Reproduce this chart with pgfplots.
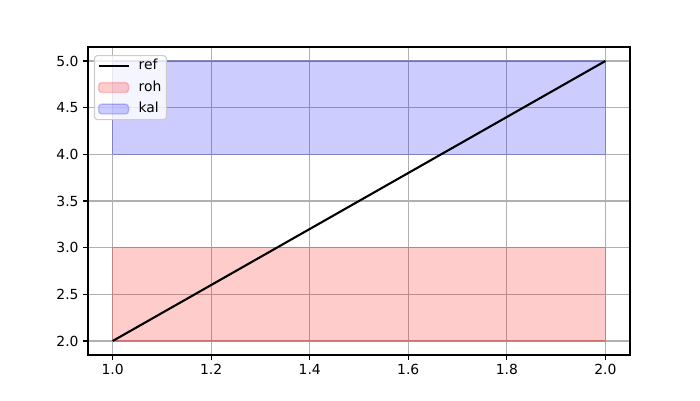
\documentclass[border=0pt]{standalone}
\usepackage{fontspec}
\setmainfont{DejaVu Sans}
\usepackage{pgfplots}
\pgfplotsset{compat=1.18}

\definecolor{gridgray}{HTML}{B0B0B0}
\definecolor{legedge}{HTML}{CCCCCC}

% sizes are in bp, 1bp = 1px of the 700x400 picture (matplotlib at 100 dpi)
\pgfplotsset{
	mpl line legend/.style={
			legend image code/.code={
					\draw[##1] (0bp,0bp) -- (30bp,0bp);
				},
		},
	mpl patch legend/.style={
			legend image code/.code={
					\draw[##1] (0bp,-4.9bp) rectangle (30bp,4.9bp);
				},
		},
}

\begin{document}
\begin{tikzpicture}[x=1bp,y=1bp]
	\path[use as bounding box] (0,0) rectangle (700,400);
	\begin{axis}[
			at={(88bp,45bp)},
			anchor=south west,
			width=542bp,
			height=308bp,
			scale only axis,
			xmin=0.95, xmax=2.05,
			ymin=1.85, ymax=5.15,
			xtick={1.0,1.2,1.4,1.6,1.8,2.0},
			ytick={2.0,2.5,3.0,3.5,4.0,4.5,5.0},
			grid=major,
			major grid style={gridgray, line width=1.1bp},
			tick align=outside,
			tick pos=left,
			major tick length=4.9bp,
			every tick/.style={black, line width=1.1bp},
			axis line style={line width=1.1bp},
			tick label style={font=\fontsize{13.9bp}{16bp}\selectfont},
			xticklabel style={yshift=-1bp},
			yticklabel style={xshift=-1bp},
			/pgf/number format/assume math mode=true,
			/pgf/number format/fixed,
			/pgf/number format/fixed zerofill,
			/pgf/number format/precision=1,
			legend style={
					at={(0.011,0.974)},
					anchor=north west,
					draw=legedge,
					line width=1.1bp,
					fill=white,
					fill opacity=0.8,
					text opacity=1,
					rounded corners=3bp,
					font=\fontsize{13.9bp}{16bp}\selectfont,
					legend cell align=left,
					row sep=4.5bp,
					column sep=7bp,
					inner xsep=3bp,
					inner ysep=2bp,
					nodes={inner xsep=2bp, inner ysep=2bp, text height=10bp, text depth=3bp},
				},
		]
		\addlegendimage{black, line width=2.1bp, mpl line legend}
		\addlegendentry{ref}

		% red band
		\addplot[
			fill=red, fill opacity=0.2,
			draw=red, draw opacity=0.2, line width=1.4bp,
			mpl patch legend,
		] coordinates {
    (1.0, 2.0)
    (2.0, 2.0)
    (2.0, 3.0)
    (1.0, 3.0)
    (1.0, 2.0)
		};
		\addlegendentry{roh}

		% blue band
		\addplot[
			fill=blue, fill opacity=0.2,
			draw=blue, draw opacity=0.2, line width=1.4bp,
			mpl patch legend,
		] coordinates {
    (1.0, 4.0)
    (2.0, 4.0)
    (2.0, 5.0)
    (1.0, 5.0)
    (1.0, 4.0)
		};
		\addlegendentry{kal}

		\addplot[black, line width=2.1bp, forget plot] coordinates {
    (1.0, 2.0)
    (2.0, 5.0)
		};
	\end{axis}
\end{tikzpicture}
\end{document}
